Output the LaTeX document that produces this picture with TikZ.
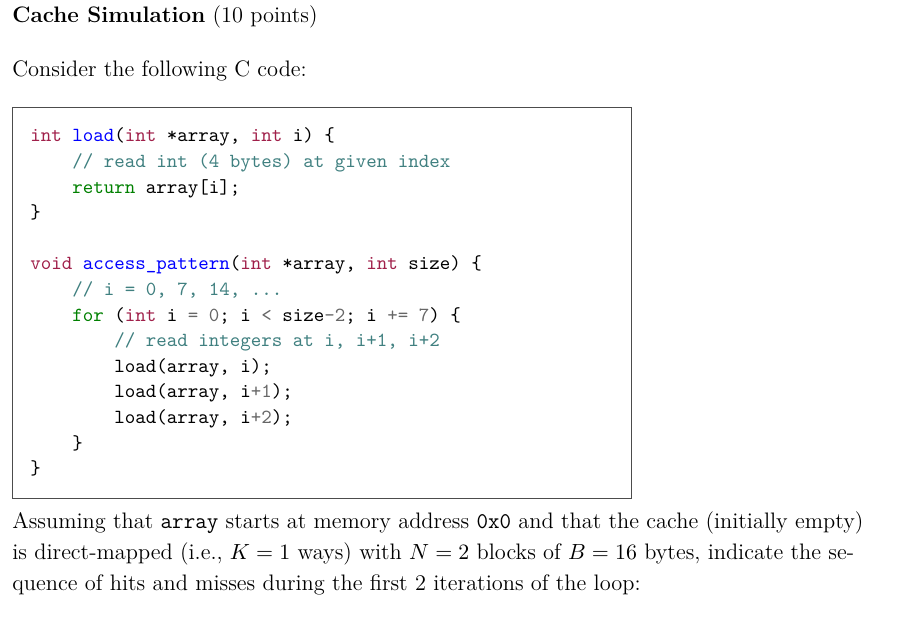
\documentclass[tikz,border=0pt]{standalone}
\usepackage{xcolor}
\definecolor{kw}{HTML}{A0204A}
\definecolor{fn}{HTML}{0000FF}
\definecolor{cm}{HTML}{408080}
\definecolor{gr}{HTML}{008000}
\definecolor{op}{HTML}{666666}
\begin{document}
\begin{tikzpicture}[x=0.5pt,y=-0.5pt,
  code/.style={anchor=base west,inner sep=0pt,font=\ttfamily\fontsize{10}{12}\selectfont},
  txt/.style={anchor=base west,inner sep=0pt,font=\fontsize{11.2}{14}\selectfont}]
\useasboundingbox (0,0) rectangle (908,622);
\node[txt] (title) at (12,22) {\textbf{Cache Simulation} (10 points)};
\node[txt] (cons) at (12,76) {Consider the following C code:};
\draw[line width=0.5pt,draw=black!70] (12,107) rectangle (631,498);
\node[code] (l1) at (30,141) {\textcolor{kw}{int} \textcolor{fn}{load}(\textcolor{kw}{int} *array, \textcolor{kw}{int} i) \{};
\node[code] (l2) at (72,167) {\textcolor{cm}{// read int (4 bytes) at given index}};
\node[code] (l3) at (72,193) {\textcolor{gr}{return} array[i];};
\node[code] (l4) at (30,218) {\}};
\node[code] (l5) at (30,269) {\textcolor{kw}{void} \textcolor{fn}{access\_pattern}(\textcolor{kw}{int} *array, \textcolor{kw}{int} size) \{};
\node[code] (l6) at (72,295) {\textcolor{cm}{// i = 0, 7, 14, ...}};
\node[code] (l7) at (72,321) {\textcolor{gr}{for} (\textcolor{kw}{int} i \textcolor{op}{= 0}; i \textcolor{op}{<} size\textcolor{op}{-2}; i \textcolor{op}{+= 7}) \{};
\node[code] (l8) at (114,346) {\textcolor{cm}{// read integers at i, i+1, i+2}};
\node[code] (l9) at (114,372) {load(array, i);};
\node[code] (l10) at (114,397) {load(array, i\textcolor{op}{+1});};
\node[code] (l11) at (114,423) {load(array, i\textcolor{op}{+2});};
\node[code] (l12) at (72,449) {\}};
\node[code] (l13) at (30,474) {\}};
\node[txt] (p1) at (12,528) {Assuming that \texttt{array} starts at memory address \texttt{0x0} and that the cache (initially empty)};
\node[txt] (p2) at (12,559) {is direct-mapped (i.e., $K=1$ ways) with $N=2$ blocks of $B=16$ bytes, indicate the se-};
\node[txt] (p3) at (12,590) {quence of hits and misses during the first 2 iterations of the loop:};
\end{tikzpicture}
\end{document}
